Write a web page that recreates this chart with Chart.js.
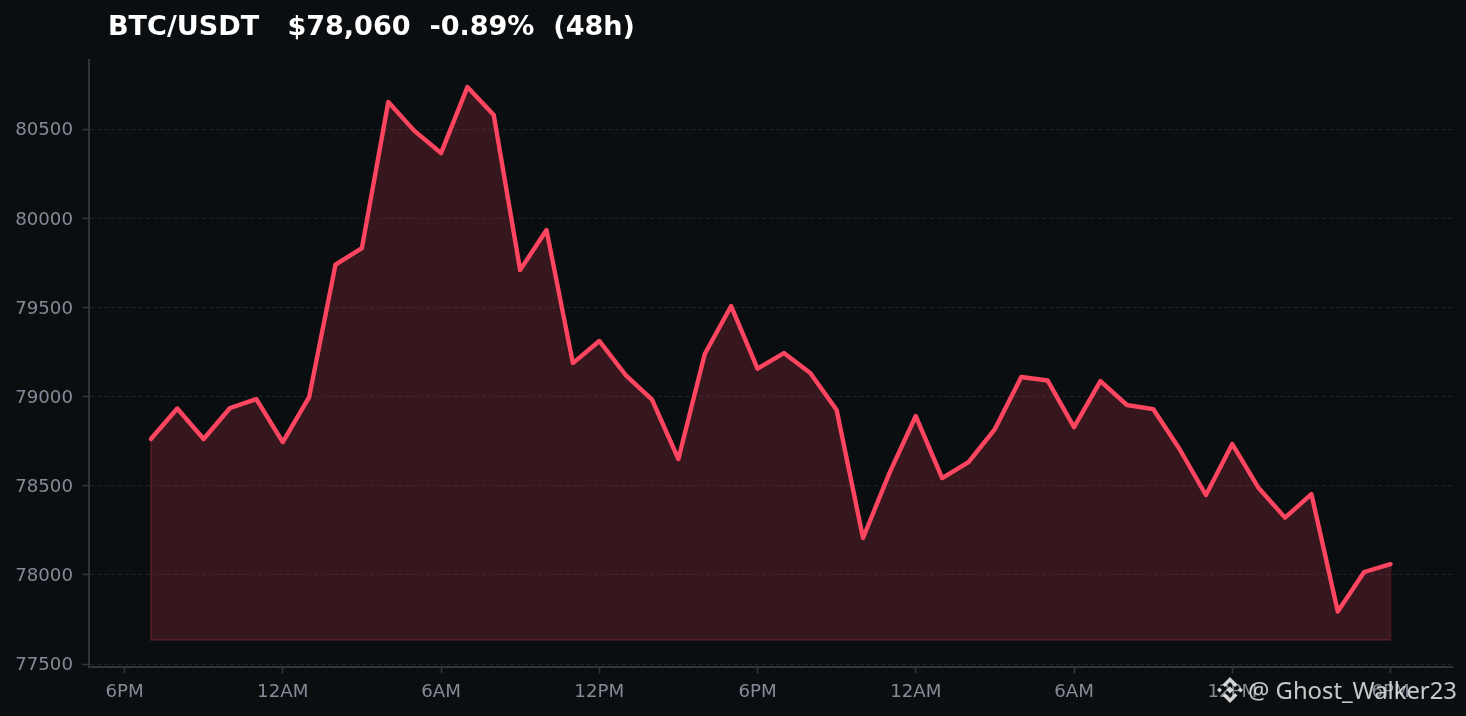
<!DOCTYPE html>
<html>
<head>
<meta charset="utf-8">
<title>BTC/USDT</title>
<script src="https://cdn.jsdelivr.net/npm/chart.js@4"></script>
<style>
html,body{margin:0;padding:0;background:#0b0e11;width:1466px;height:716px;overflow:hidden}
#c{position:absolute;left:0;top:0}
#title{position:absolute;left:108px;top:9px;font:bold 27.050px "DejaVu Sans";color:#fff;white-space:pre;line-height:34px}
#mark{position:absolute;left:1248px;top:674px;font:23.800px "Noto Sans";color:rgba(232,232,232,.85);white-space:pre;line-height:32px}
#icon{position:absolute;left:1217px;top:676px}
</style>
</head>
<body>
<canvas id="c" width="1466" height="716"></canvas>
<div id="title">BTC/USDT   $78,060  -0.89%  (48h)</div>
<svg id="icon" width="26" height="28" viewBox="0 0 26 28" fill="rgba(232,232,232,.9)">
<path d="M13 1l7.500 7.500-2.500 2.500-5-5-5 5-2.500-2.500zM13 27l-7.500-7.500 2.500-2.500 5 5 5-5 2.500 2.500zM13 10.500l3.500 3.500-3.500 3.500-3.500-3.500zM0 14l2.500-2.500L5 14l-2.500 2.500zM26 14l-2.500 2.500L21 14l2.500-2.500z"/>
</svg>
<div id="mark">@ Ghost_Walker23</div>
<script>
const hours = [1,2,3,4,5,6,7,8,9,10,11,12,13,14,15,16,17,18,19,20,21,22,23,24,25,26,27,28,29,30,31,32,33,34,35,36,37,38,39,40,41,42,43,44,45,46,47,48];
const prices = [78762,78933,78762,78936,78986,78745,78997,79740,79833,80652,80489,80366,80736,80579,79710,79934,79188,79312,79121,78983,78650,79239,79508,79157,79244,79132,78925,78207,78571,78891,78543,78633,78818,79110,79090,78829,79087,78953,78930,78706,78448,78734,78487,78321,78453,77794,78016,78060];
const fillBase = 77635;
const xTickHours = [0,6,12,18,24,30,36,42,48];
const xTickLabels = ['6PM','12AM','6AM','12PM','6PM','12AM','6AM','12PM','6PM'];
const yTicks = [77500,78000,78500,79000,79500,80000,80500];

const series = hours.map((h,i)=>({x:h,y:prices[i]}));
const n = hours.length-1;
const edge = [{x:hours[0],y:prices[0]},{x:hours[0],y:fillBase},{x:hours[n],y:fillBase},{x:hours[n],y:prices[n]}];
const tickCol = '#30353c', labelCol = '#848b96';
const font = {family:'"DejaVu Sans"',size:18.2};

new Chart(document.getElementById('c'),{
  type:'line',
  data:{datasets:[
    {data:edge,borderColor:'rgba(255,69,96,.16)',borderWidth:2,pointRadius:0,fill:false,tension:0,order:2},
    {data:series,borderColor:'#ff4560',borderWidth:4.4,pointRadius:0,tension:0,borderJoinStyle:'round',borderCapStyle:'round',
     fill:{value:fillBase},backgroundColor:'rgba(255,69,96,.18)',order:1}
  ]},
  options:{
    responsive:false,animation:false,devicePixelRatio:1,
    layout:{padding:{left:0,top:60,right:14,bottom:0}},
    plugins:{legend:{display:false},tooltip:{enabled:false},title:{display:false}},
    scales:{
      x:{type:'linear',min:-1.346,max:50.33,
        afterFit(s){s.height=49.5},
        afterBuildTicks(s){s.ticks=xTickHours.map(v=>({value:v}))},
        grid:{drawOnChartArea:false,drawTicks:true,tickLength:7,tickWidth:1.5,tickColor:tickCol},
        border:{color:tickCol,width:2},
        ticks:{autoSkip:false,maxRotation:0,color:labelCol,font,padding:8,
          callback(v){const i=xTickHours.indexOf(v);return i<0?'':xTickLabels[i]}}
      },
      y:{type:'linear',min:77486,max:80888,
        afterFit(s){s.width=89},
        afterBuildTicks(s){s.ticks=yTicks.map(v=>({value:v}))},
        grid:{color:'#1e2227',lineWidth:1,drawTicks:true,tickLength:7,tickWidth:1.5,tickColor:tickCol,tickBorderDash:[]},
        border:{color:tickCol,width:2,dash:[4,3]},
        ticks:{color:labelCol,font,padding:9,labelOffset:1.5,callback(v){return String(v)}}
      }
    }
  }
});
</script>
</body>
</html>
